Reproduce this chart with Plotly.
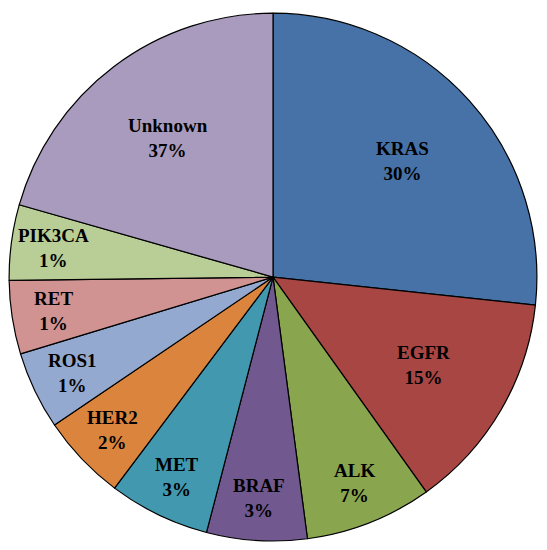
import numpy as np
import plotly.graph_objects as go

# slice sizes as drawn (degrees) and the printed percentages
genes = ['KRAS', 'EGFR', 'ALK', 'BRAF', 'MET', 'HER2', 'ROS1', 'RET', 'PIK3CA', 'Unknown']
slice_deg = [96.1, 48.4, 28.0, 22.1, 22.3, 19.0, 17.2, 16.2, 16.6, 74.1]
pct_text = ['30%', '15%', '7%', '3%', '3%', '2%', '1%', '1%', '1%', '37%']

colors = ['#4672A8', '#A84644', '#89A54E', '#71588F', '#4198AF', '#DB843D',
          '#93A9CF', '#D19392', '#B9CD96', '#A99BBD']

W, H = 547, 550
dom_x = [0.0165, 0.9817]
dom_y = [0.0164, 0.976]

fig = go.Figure(go.Pie(
    labels=genes,
    values=slice_deg,
    sort=False,
    direction='clockwise',
    rotation=0,
    marker=dict(colors=colors, line=dict(color='black', width=1.2)),
    textinfo='none',
    domain=dict(x=dom_x, y=dom_y),
    showlegend=False,
    hoverinfo='skip',
))

# labels sit on each slice's middle angle, big slices a bit nearer the centre
cx = sum(dom_x) / 2
cy = sum(dom_y) / 2
rad_px = min((dom_x[1] - dom_x[0]) * W, (dom_y[1] - dom_y[0]) * H) / 2
deg = np.array(slice_deg)
mid = np.radians(np.cumsum(deg) - deg / 2)
frac = np.where(deg > 40, 0.66, 0.84)
for g, p, a, f in zip(genes, pct_text, mid, frac):
    fig.add_annotation(
        x=cx + f * rad_px * np.sin(a) / W,
        y=cy + f * rad_px * np.cos(a) / H,
        xref='paper', yref='paper',
        xanchor='center', yanchor='middle',
        text=f'<b>{g}<br>{p}</b>',
        showarrow=False,
        font=dict(family='Liberation Serif', size=19, color='black'),
    )

fig.update_layout(
    width=W, height=H,
    margin=dict(l=0, r=0, t=0, b=0),
    paper_bgcolor='white',
)

fig.write_html("out.html", config={'displayModeBar': False},
               post_script="document.body.style.margin='0';")
